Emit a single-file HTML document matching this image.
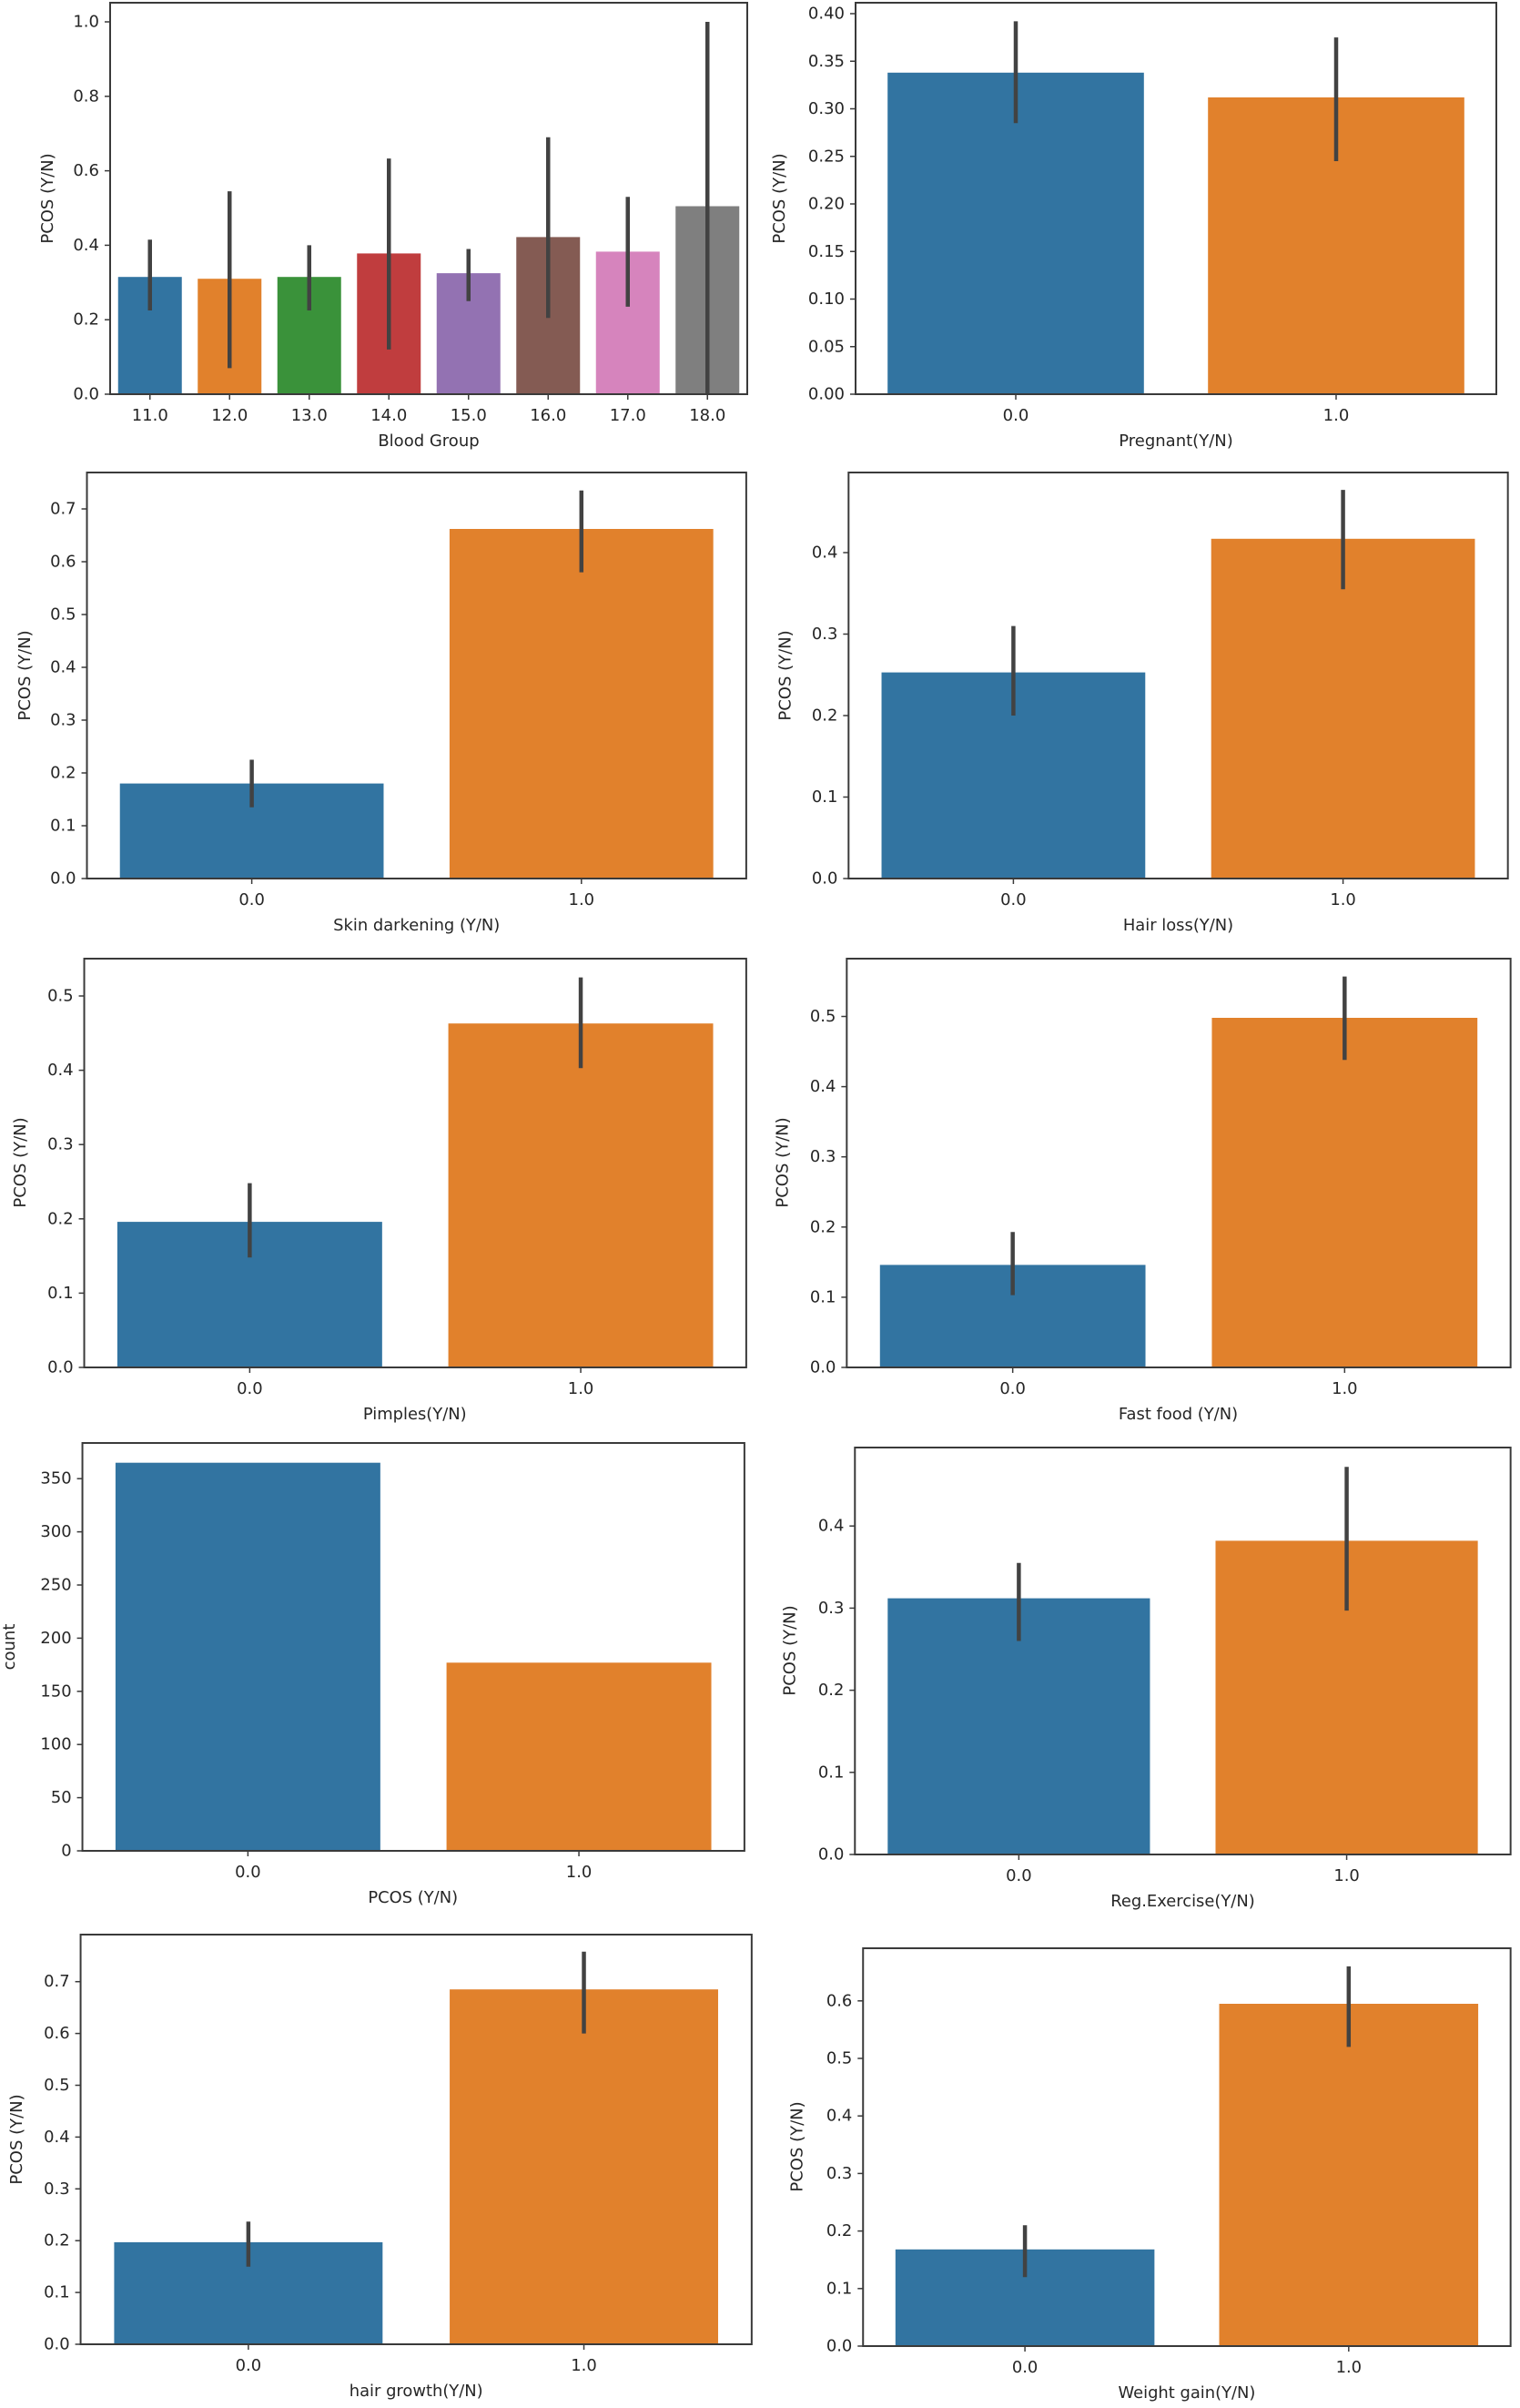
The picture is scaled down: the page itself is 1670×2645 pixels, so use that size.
<!DOCTYPE html>
<html><head><meta charset="utf-8"><style>
html,body{margin:0;padding:0;background:#fff}
svg{display:block}
text{font-family:"DejaVu Sans","Liberation Sans",sans-serif;fill:#262626;font-size:18px}
.yt{text-anchor:end;dominant-baseline:central}
.xt{text-anchor:middle}
.fr{fill:none;stroke:#3a3a3a;stroke-width:2}
.tk{stroke:#3a3a3a;stroke-width:1.5}
.eb{stroke:#424242;stroke-width:4.5}
.b{fill:#3274a1}.o{fill:#e1812c}
</style></head><body>
<svg width="1670" height="2645" viewBox="0 0 1670 2645" xmlns="http://www.w3.org/2000/svg">
<!-- P1 -->
<g>
<rect x="129.75" y="304.2" width="70" height="128.8" fill="#3274a1"/>
<rect x="217.25" y="306.2" width="70" height="126.8" fill="#e1812c"/>
<rect x="304.75" y="304.2" width="70" height="128.8" fill="#3a923a"/>
<rect x="392.25" y="278.4" width="70" height="154.6" fill="#c03d3e"/>
<rect x="479.75" y="300.1" width="70" height="132.9" fill="#9372b2"/>
<rect x="567.25" y="260.4" width="70" height="172.6" fill="#845b53"/>
<rect x="654.75" y="276.4" width="70" height="156.6" fill="#d684bd"/>
<rect x="742.25" y="226.5" width="70" height="206.5" fill="#7f7f7f"/>
<line class="eb" x1="164.75" y1="341" x2="164.75" y2="263.3"/>
<line class="eb" x1="252.25" y1="404.4" x2="252.25" y2="210.1"/>
<line class="eb" x1="339.75" y1="341" x2="339.75" y2="269.4"/>
<line class="eb" x1="427.25" y1="383.9" x2="427.25" y2="174.1"/>
<line class="eb" x1="514.75" y1="330.8" x2="514.75" y2="273.5"/>
<line class="eb" x1="602.25" y1="349.2" x2="602.25" y2="150.8"/>
<line class="eb" x1="689.75" y1="336.9" x2="689.75" y2="216.2"/>
<line class="eb" x1="777.25" y1="433" x2="777.25" y2="24"/>
<rect class="fr" x="121" y="3" width="700" height="430"/>
<g class="tk"><line x1="115" x2="121" y1="433" y2="433"/><line x1="115" x2="121" y1="351.2" y2="351.2"/><line x1="115" x2="121" y1="269.4" y2="269.4"/><line x1="115" x2="121" y1="187.6" y2="187.6"/><line x1="115" x2="121" y1="105.8" y2="105.8"/><line x1="115" x2="121" y1="24" y2="24"/>
<line x1="164.75" x2="164.75" y1="433" y2="439"/><line x1="252.25" x2="252.25" y1="433" y2="439"/><line x1="339.75" x2="339.75" y1="433" y2="439"/><line x1="427.25" x2="427.25" y1="433" y2="439"/><line x1="514.75" x2="514.75" y1="433" y2="439"/><line x1="602.25" x2="602.25" y1="433" y2="439"/><line x1="689.75" x2="689.75" y1="433" y2="439"/><line x1="777.25" x2="777.25" y1="433" y2="439"/></g>
<text class="yt" x="109" y="433">0.0</text><text class="yt" x="109" y="351.2">0.2</text><text class="yt" x="109" y="269.4">0.4</text><text class="yt" x="109" y="187.6">0.6</text><text class="yt" x="109" y="105.8">0.8</text><text class="yt" x="109" y="24">1.0</text>
<text class="xt" x="164.75" y="462">11.0</text><text class="xt" x="252.25" y="462">12.0</text><text class="xt" x="339.75" y="462">13.0</text><text class="xt" x="427.25" y="462">14.0</text><text class="xt" x="514.75" y="462">15.0</text><text class="xt" x="602.25" y="462">16.0</text><text class="xt" x="689.75" y="462">17.0</text><text class="xt" x="777.25" y="462">18.0</text>
<text class="xt" x="471" y="490">Blood Group</text>
<text class="xt" transform="translate(58,218) rotate(-90)">PCOS (Y/N)</text>
</g>
<!-- P2 -->
<g>
<rect class="b" x="975.2" y="79.8" width="281.6" height="353.2"/>
<rect class="o" x="1327.2" y="107" width="281.6" height="326"/>
<line class="eb" x1="1116" y1="135.2" x2="1116" y2="23.4"/>
<line class="eb" x1="1468" y1="177" x2="1468" y2="41.1"/>
<rect class="fr" x="940" y="3" width="704" height="430"/>
<g class="tk"><line x1="934" x2="940" y1="433" y2="433"/><line x1="934" x2="940" y1="380.75" y2="380.75"/><line x1="934" x2="940" y1="328.5" y2="328.5"/><line x1="934" x2="940" y1="276.25" y2="276.25"/><line x1="934" x2="940" y1="224" y2="224"/><line x1="934" x2="940" y1="171.75" y2="171.75"/><line x1="934" x2="940" y1="119.5" y2="119.5"/><line x1="934" x2="940" y1="67.25" y2="67.25"/><line x1="934" x2="940" y1="15" y2="15"/>
<line x1="1116" x2="1116" y1="433" y2="439"/><line x1="1468" x2="1468" y1="433" y2="439"/></g>
<text class="yt" x="928" y="433">0.00</text><text class="yt" x="928" y="380.75">0.05</text><text class="yt" x="928" y="328.5">0.10</text><text class="yt" x="928" y="276.25">0.15</text><text class="yt" x="928" y="224">0.20</text><text class="yt" x="928" y="171.75">0.25</text><text class="yt" x="928" y="119.5">0.30</text><text class="yt" x="928" y="67.25">0.35</text><text class="yt" x="928" y="15">0.40</text>
<text class="xt" x="1116" y="462">0.0</text><text class="xt" x="1468" y="462">1.0</text>
<text class="xt" x="1292" y="490">Pregnant(Y/N)</text>
<text class="xt" transform="translate(862,218) rotate(-90)">PCOS (Y/N)</text>
</g>
<g transform="scale(0.995,1)">
<!-- P3 -->
<g>
<rect class="b" x="132.4" y="860.6" width="291.2" height="104.4"/>
<rect class="o" x="496.4" y="581" width="291.2" height="384"/>
<line class="eb" x1="278" y1="886.7" x2="278" y2="834.5"/>
<line class="eb" x1="642" y1="628.6" x2="642" y2="538.7"/>
<rect class="fr" x="96" y="519" width="728" height="446"/>
<g class="tk"><line x1="90" x2="96" y1="965" y2="965"/><line x1="90" x2="96" y1="907" y2="907"/><line x1="90" x2="96" y1="849" y2="849"/><line x1="90" x2="96" y1="791" y2="791"/><line x1="90" x2="96" y1="733" y2="733"/><line x1="90" x2="96" y1="675" y2="675"/><line x1="90" x2="96" y1="617" y2="617"/><line x1="90" x2="96" y1="559" y2="559"/>
<line x1="278" x2="278" y1="965" y2="971"/><line x1="642" x2="642" y1="965" y2="971"/></g>
<text class="yt" x="84" y="965">0.0</text><text class="yt" x="84" y="907">0.1</text><text class="yt" x="84" y="849">0.2</text><text class="yt" x="84" y="791">0.3</text><text class="yt" x="84" y="733">0.4</text><text class="yt" x="84" y="675">0.5</text><text class="yt" x="84" y="617">0.6</text><text class="yt" x="84" y="559">0.7</text>
<text class="xt" x="278" y="994">0.0</text><text class="xt" x="642" y="994">1.0</text>
<text class="xt" x="460" y="1022">Skin darkening (Y/N)</text>
<text class="xt" transform="translate(33,742) rotate(-90)">PCOS (Y/N)</text>
</g>
<!-- P4 -->
<g>
<rect class="b" x="973.4" y="738.6" width="291.2" height="226.4"/>
<rect class="o" x="1337.4" y="591.8" width="291.2" height="373.2"/>
<line class="eb" x1="1119" y1="786" x2="1119" y2="687.6"/>
<line class="eb" x1="1483" y1="647.3" x2="1483" y2="538.1"/>
<rect class="fr" x="937" y="519" width="728" height="446"/>
<g class="tk"><line x1="931" x2="937" y1="965" y2="965"/><line x1="931" x2="937" y1="875.5" y2="875.5"/><line x1="931" x2="937" y1="786" y2="786"/><line x1="931" x2="937" y1="696.5" y2="696.5"/><line x1="931" x2="937" y1="607" y2="607"/>
<line x1="1119" x2="1119" y1="965" y2="971"/><line x1="1483" x2="1483" y1="965" y2="971"/></g>
<text class="yt" x="925" y="965">0.0</text><text class="yt" x="925" y="875.5">0.1</text><text class="yt" x="925" y="786">0.2</text><text class="yt" x="925" y="696.5">0.3</text><text class="yt" x="925" y="607">0.4</text>
<text class="xt" x="1119" y="994">0.0</text><text class="xt" x="1483" y="994">1.0</text>
<text class="xt" x="1301" y="1022">Hair loss(Y/N)</text>
<text class="xt" transform="translate(873,742) rotate(-90)">PCOS (Y/N)</text>
</g>
<!-- P5 -->
<g>
<rect class="b" x="129.55" y="1342.1" width="292.4" height="159.9"/>
<rect class="o" x="495.05" y="1124.2" width="292.4" height="377.8"/>
<line class="eb" x1="275.75" y1="1381.2" x2="275.75" y2="1299.6"/>
<line class="eb" x1="641.25" y1="1173.2" x2="641.25" y2="1073.6"/>
<rect class="fr" x="93" y="1053" width="731" height="449"/>
<g class="tk"><line x1="87" x2="93" y1="1502" y2="1502"/><line x1="87" x2="93" y1="1420.4" y2="1420.4"/><line x1="87" x2="93" y1="1338.8" y2="1338.8"/><line x1="87" x2="93" y1="1257.2" y2="1257.2"/><line x1="87" x2="93" y1="1175.6" y2="1175.6"/><line x1="87" x2="93" y1="1094" y2="1094"/>
<line x1="275.75" x2="275.75" y1="1502" y2="1508"/><line x1="641.25" x2="641.25" y1="1502" y2="1508"/></g>
<text class="yt" x="81" y="1502">0.0</text><text class="yt" x="81" y="1420.4">0.1</text><text class="yt" x="81" y="1338.8">0.2</text><text class="yt" x="81" y="1257.2">0.3</text><text class="yt" x="81" y="1175.6">0.4</text><text class="yt" x="81" y="1094">0.5</text>
<text class="xt" x="275.75" y="1531">0.0</text><text class="xt" x="641.25" y="1531">1.0</text>
<text class="xt" x="458" y="1559">Pimples(Y/N)</text>
<text class="xt" transform="translate(28,1277) rotate(-90)">PCOS (Y/N)</text>
</g>
<!-- P6 -->
<g>
<rect class="b" x="971.65" y="1389.4" width="293.2" height="112.6"/>
<rect class="o" x="1338.15" y="1118" width="293.2" height="384"/>
<line class="eb" x1="1118.25" y1="1422.6" x2="1118.25" y2="1353.2"/>
<line class="eb" x1="1484.75" y1="1164.3" x2="1484.75" y2="1072.6"/>
<rect class="fr" x="935" y="1053" width="733" height="449"/>
<g class="tk"><line x1="929" x2="935" y1="1502" y2="1502"/><line x1="929" x2="935" y1="1424.9" y2="1424.9"/><line x1="929" x2="935" y1="1347.8" y2="1347.8"/><line x1="929" x2="935" y1="1270.7" y2="1270.7"/><line x1="929" x2="935" y1="1193.6" y2="1193.6"/><line x1="929" x2="935" y1="1116.5" y2="1116.5"/>
<line x1="1118.25" x2="1118.25" y1="1502" y2="1508"/><line x1="1484.75" x2="1484.75" y1="1502" y2="1508"/></g>
<text class="yt" x="923" y="1502">0.0</text><text class="yt" x="923" y="1424.9">0.1</text><text class="yt" x="923" y="1347.8">0.2</text><text class="yt" x="923" y="1270.7">0.3</text><text class="yt" x="923" y="1193.6">0.4</text><text class="yt" x="923" y="1116.5">0.5</text>
<text class="xt" x="1118.25" y="1531">0.0</text><text class="xt" x="1484.75" y="1531">1.0</text>
<text class="xt" x="1301" y="1559">Fast food (Y/N)</text>
<text class="xt" transform="translate(870,1277) rotate(-90)">PCOS (Y/N)</text>
</g>
<!-- P7 -->
<g>
<rect class="b" x="127.55" y="1606.7" width="292.4" height="426.3"/>
<rect class="o" x="493.05" y="1826.3" width="292.4" height="206.7"/>
<rect class="fr" x="91" y="1585" width="731" height="448"/>
<g class="tk"><line x1="85" x2="91" y1="2033" y2="2033"/><line x1="85" x2="91" y1="1974.6" y2="1974.6"/><line x1="85" x2="91" y1="1916.2" y2="1916.2"/><line x1="85" x2="91" y1="1857.8" y2="1857.8"/><line x1="85" x2="91" y1="1799.4" y2="1799.4"/><line x1="85" x2="91" y1="1741" y2="1741"/><line x1="85" x2="91" y1="1682.6" y2="1682.6"/><line x1="85" x2="91" y1="1624.2" y2="1624.2"/>
<line x1="273.75" x2="273.75" y1="2033" y2="2039"/><line x1="639.25" x2="639.25" y1="2033" y2="2039"/></g>
<text class="yt" x="79" y="2033">0</text><text class="yt" x="79" y="1974.6">50</text><text class="yt" x="79" y="1916.2">100</text><text class="yt" x="79" y="1857.8">150</text><text class="yt" x="79" y="1799.4">200</text><text class="yt" x="79" y="1741">250</text><text class="yt" x="79" y="1682.6">300</text><text class="yt" x="79" y="1624.2">350</text>
<text class="xt" x="273.75" y="2062">0.0</text><text class="xt" x="639.25" y="2062">1.0</text>
<text class="xt" x="456" y="2090">PCOS (Y/N)</text>
<text class="xt" transform="translate(16,1809) rotate(-90)">count</text>
</g>
<!-- P8 -->
<g>
<rect class="b" x="980.2" y="1755.6" width="289.6" height="281.4"/>
<rect class="o" x="1342.2" y="1692.4" width="289.6" height="344.6"/>
<line class="eb" x1="1125" y1="1802.5" x2="1125" y2="1716.8"/>
<line class="eb" x1="1487" y1="1769.1" x2="1487" y2="1611.3"/>
<rect class="fr" x="944" y="1590" width="724" height="447"/>
<g class="tk"><line x1="938" x2="944" y1="2037" y2="2037"/><line x1="938" x2="944" y1="1946.8" y2="1946.8"/><line x1="938" x2="944" y1="1856.6" y2="1856.6"/><line x1="938" x2="944" y1="1766.4" y2="1766.4"/><line x1="938" x2="944" y1="1676.2" y2="1676.2"/>
<line x1="1125" x2="1125" y1="2037" y2="2043"/><line x1="1487" x2="1487" y1="2037" y2="2043"/></g>
<text class="yt" x="932" y="2037">0.0</text><text class="yt" x="932" y="1946.8">0.1</text><text class="yt" x="932" y="1856.6">0.2</text><text class="yt" x="932" y="1766.4">0.3</text><text class="yt" x="932" y="1676.2">0.4</text>
<text class="xt" x="1125" y="2066">0.0</text><text class="xt" x="1487" y="2066">1.0</text>
<text class="xt" x="1306" y="2094">Reg.Exercise(Y/N)</text>
<text class="xt" transform="translate(878,1813) rotate(-90)">PCOS (Y/N)</text>
</g>
<!-- P9 -->
<g>
<rect class="b" x="126.05" y="2462.9" width="296.4" height="112.1"/>
<rect class="o" x="496.55" y="2185.2" width="296.4" height="389.8"/>
<line class="eb" x1="274.25" y1="2489.7" x2="274.25" y2="2440.2"/>
<line class="eb" x1="644.75" y1="2233.6" x2="644.75" y2="2143.7"/>
<rect class="fr" x="89" y="2125" width="741" height="450"/>
<g class="tk"><line x1="83" x2="89" y1="2575" y2="2575"/><line x1="83" x2="89" y1="2518.1" y2="2518.1"/><line x1="83" x2="89" y1="2461.2" y2="2461.2"/><line x1="83" x2="89" y1="2404.3" y2="2404.3"/><line x1="83" x2="89" y1="2347.4" y2="2347.4"/><line x1="83" x2="89" y1="2290.5" y2="2290.5"/><line x1="83" x2="89" y1="2233.6" y2="2233.6"/><line x1="83" x2="89" y1="2176.7" y2="2176.7"/>
<line x1="274.25" x2="274.25" y1="2575" y2="2581"/><line x1="644.75" x2="644.75" y1="2575" y2="2581"/></g>
<text class="yt" x="77" y="2575">0.0</text><text class="yt" x="77" y="2518.1">0.1</text><text class="yt" x="77" y="2461.2">0.2</text><text class="yt" x="77" y="2404.3">0.3</text><text class="yt" x="77" y="2347.4">0.4</text><text class="yt" x="77" y="2290.5">0.5</text><text class="yt" x="77" y="2233.6">0.6</text><text class="yt" x="77" y="2176.7">0.7</text>
<text class="xt" x="274.25" y="2604">0.0</text><text class="xt" x="644.75" y="2604">1.0</text>
<text class="xt" x="459.5" y="2632">hair growth(Y/N)</text>
<text class="xt" transform="translate(24,2350) rotate(-90)">PCOS (Y/N)</text>
</g>
<!-- P10 -->
<g>
<rect class="b" x="988.75" y="2470.8" width="286" height="106.2"/>
<rect class="o" x="1346.25" y="2201" width="286" height="376"/>
<line class="eb" x1="1131.75" y1="2501.2" x2="1131.75" y2="2444.3"/>
<line class="eb" x1="1489.25" y1="2248.4" x2="1489.25" y2="2159.9"/>
<rect class="fr" x="953" y="2140" width="715" height="437"/>
<g class="tk"><line x1="947" x2="953" y1="2577" y2="2577"/><line x1="947" x2="953" y1="2513.8" y2="2513.8"/><line x1="947" x2="953" y1="2450.6" y2="2450.6"/><line x1="947" x2="953" y1="2387.4" y2="2387.4"/><line x1="947" x2="953" y1="2324.2" y2="2324.2"/><line x1="947" x2="953" y1="2261" y2="2261"/><line x1="947" x2="953" y1="2197.8" y2="2197.8"/>
<line x1="1131.75" x2="1131.75" y1="2577" y2="2583"/><line x1="1489.25" x2="1489.25" y1="2577" y2="2583"/></g>
<text class="yt" x="941" y="2577">0.0</text><text class="yt" x="941" y="2513.8">0.1</text><text class="yt" x="941" y="2450.6">0.2</text><text class="yt" x="941" y="2387.4">0.3</text><text class="yt" x="941" y="2324.2">0.4</text><text class="yt" x="941" y="2261">0.5</text><text class="yt" x="941" y="2197.8">0.6</text>
<text class="xt" x="1131.75" y="2606">0.0</text><text class="xt" x="1489.25" y="2606">1.0</text>
<text class="xt" x="1310.5" y="2634">Weight gain(Y/N)</text>
<text class="xt" transform="translate(886,2358) rotate(-90)">PCOS (Y/N)</text>
</g>
</g>
</svg>
</body></html>
